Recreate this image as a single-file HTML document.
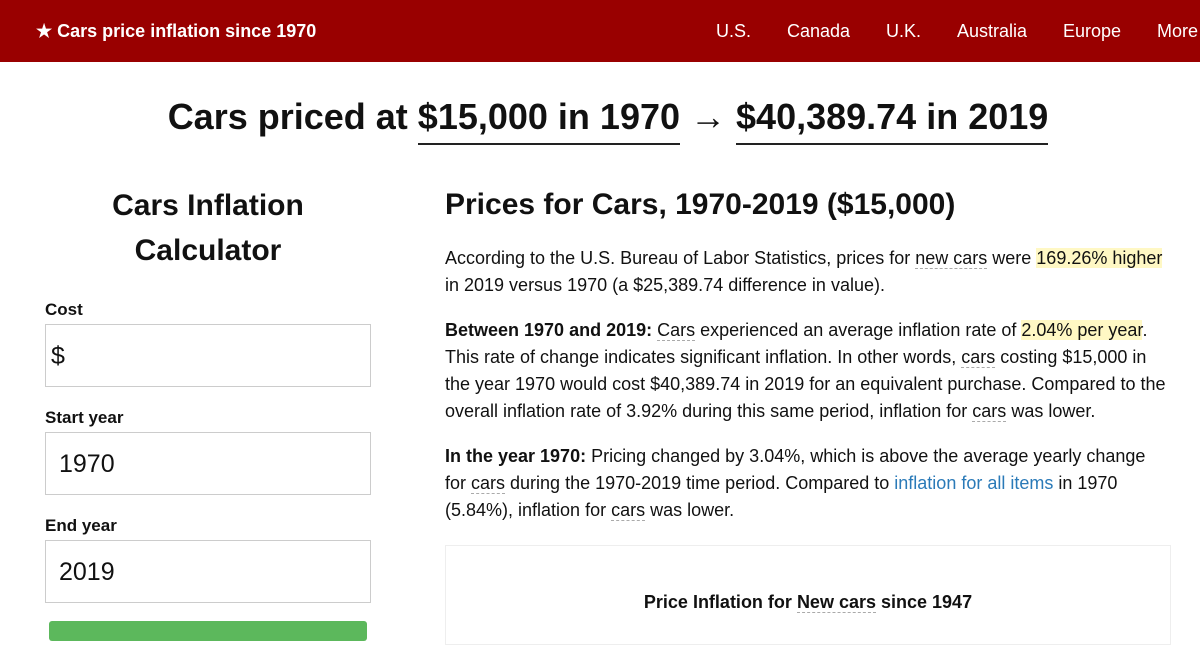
<!DOCTYPE html>
<html><head><meta charset="utf-8"><style>
*{margin:0;padding:0;box-sizing:border-box}
body{width:1200px;height:630px;overflow:hidden;background:#fff;font-family:"Liberation Sans",sans-serif;color:#111;position:relative}
.hdr{position:absolute;left:0;top:0;width:1200px;height:62px;background:#990000;color:#fff;font-size:18px}
.hdr span{position:absolute;top:21px}
h1{position:absolute;top:96px;left:8px;width:1200px;text-align:center;font-size:36px;font-weight:bold;white-space:nowrap}
h1 u{text-decoration:none;border-bottom:2px solid #222;padding-bottom:6px}
.lt{position:absolute;left:45px;width:326px;text-align:center;font-size:30px;font-weight:bold;line-height:45px;top:183px}
.lbl{position:absolute;left:45px;font-size:17px;font-weight:bold}
.inp{position:absolute;left:45px;width:326px;height:63px;border:1px solid #ccc;font-size:25px;padding:17px 13px}
.btn{position:absolute;left:49px;top:621px;width:318px;height:20px;background:#5cb85c;border-radius:3px}
h2{position:absolute;left:445px;top:188px;font-size:30px;font-weight:bold}
p{position:absolute;left:445px;width:722px;font-size:18px;line-height:27px}
.d{border-bottom:1px dashed #aaa}
.hl{background:#fff8c4}
a{color:#2a7ab8;text-decoration:none}
.box{position:absolute;left:445px;top:545px;width:726px;height:100px;border:1px solid #eee}
.ct{position:absolute;left:445px;width:726px;top:592px;text-align:center;font-size:18px;font-weight:bold}
</style></head><body>
<div class="hdr"><span style="left:36px;font-weight:bold">★ Cars price inflation since 1970</span>
<span style="left:716px">U.S.</span><span style="left:787px">Canada</span><span style="left:886px">U.K.</span><span style="left:957px">Australia</span><span style="left:1063px">Europe</span><span style="left:1157px">More</span></div>
<h1>Cars priced at <u>$15,000 in 1970</u> → <u>$40,389.74 in 2019</u></h1>
<div class="lt">Cars Inflation<br>Calculator</div>
<div class="lbl" style="top:300px">Cost</div>
<div class="inp" style="top:324px;padding-left:5px">$</div>
<div class="lbl" style="top:408px">Start year</div>
<div class="inp" style="top:432px">1970</div>
<div class="lbl" style="top:516px">End year</div>
<div class="inp" style="top:540px">2019</div>
<div class="btn"></div>
<h2>Prices for Cars, 1970-2019 ($15,000)</h2>
<p style="top:245px">According to the U.S. Bureau of Labor Statistics, prices for <span class="d">new cars</span> were <span class="hl">169.26% higher</span> in 2019 versus 1970 (a $25,389.74 difference in value).</p>
<p style="top:317px"><b>Between 1970 and 2019:</b> <span class="d">Cars</span> experienced an average inflation rate of <span class="hl">2.04% per year</span>. This rate of change indicates significant inflation. In other words, <span class="d">cars</span> costing $15,000 in the year 1970 would cost $40,389.74 in 2019 for an equivalent purchase. Compared to the overall inflation rate of 3.92% during this same period, inflation for <span class="d">cars</span> was lower.</p>
<p style="top:443px"><b>In the year 1970:</b> Pricing changed by 3.04%, which is above the average yearly change for <span class="d">cars</span> during the 1970-2019 time period. Compared to <a>inflation for all items</a> in 1970 (5.84%), inflation for <span class="d">cars</span> was lower.</p>
<div class="box"></div>
<div class="ct">Price Inflation for <span class="d">New cars</span> since 1947</div>
</body></html>
